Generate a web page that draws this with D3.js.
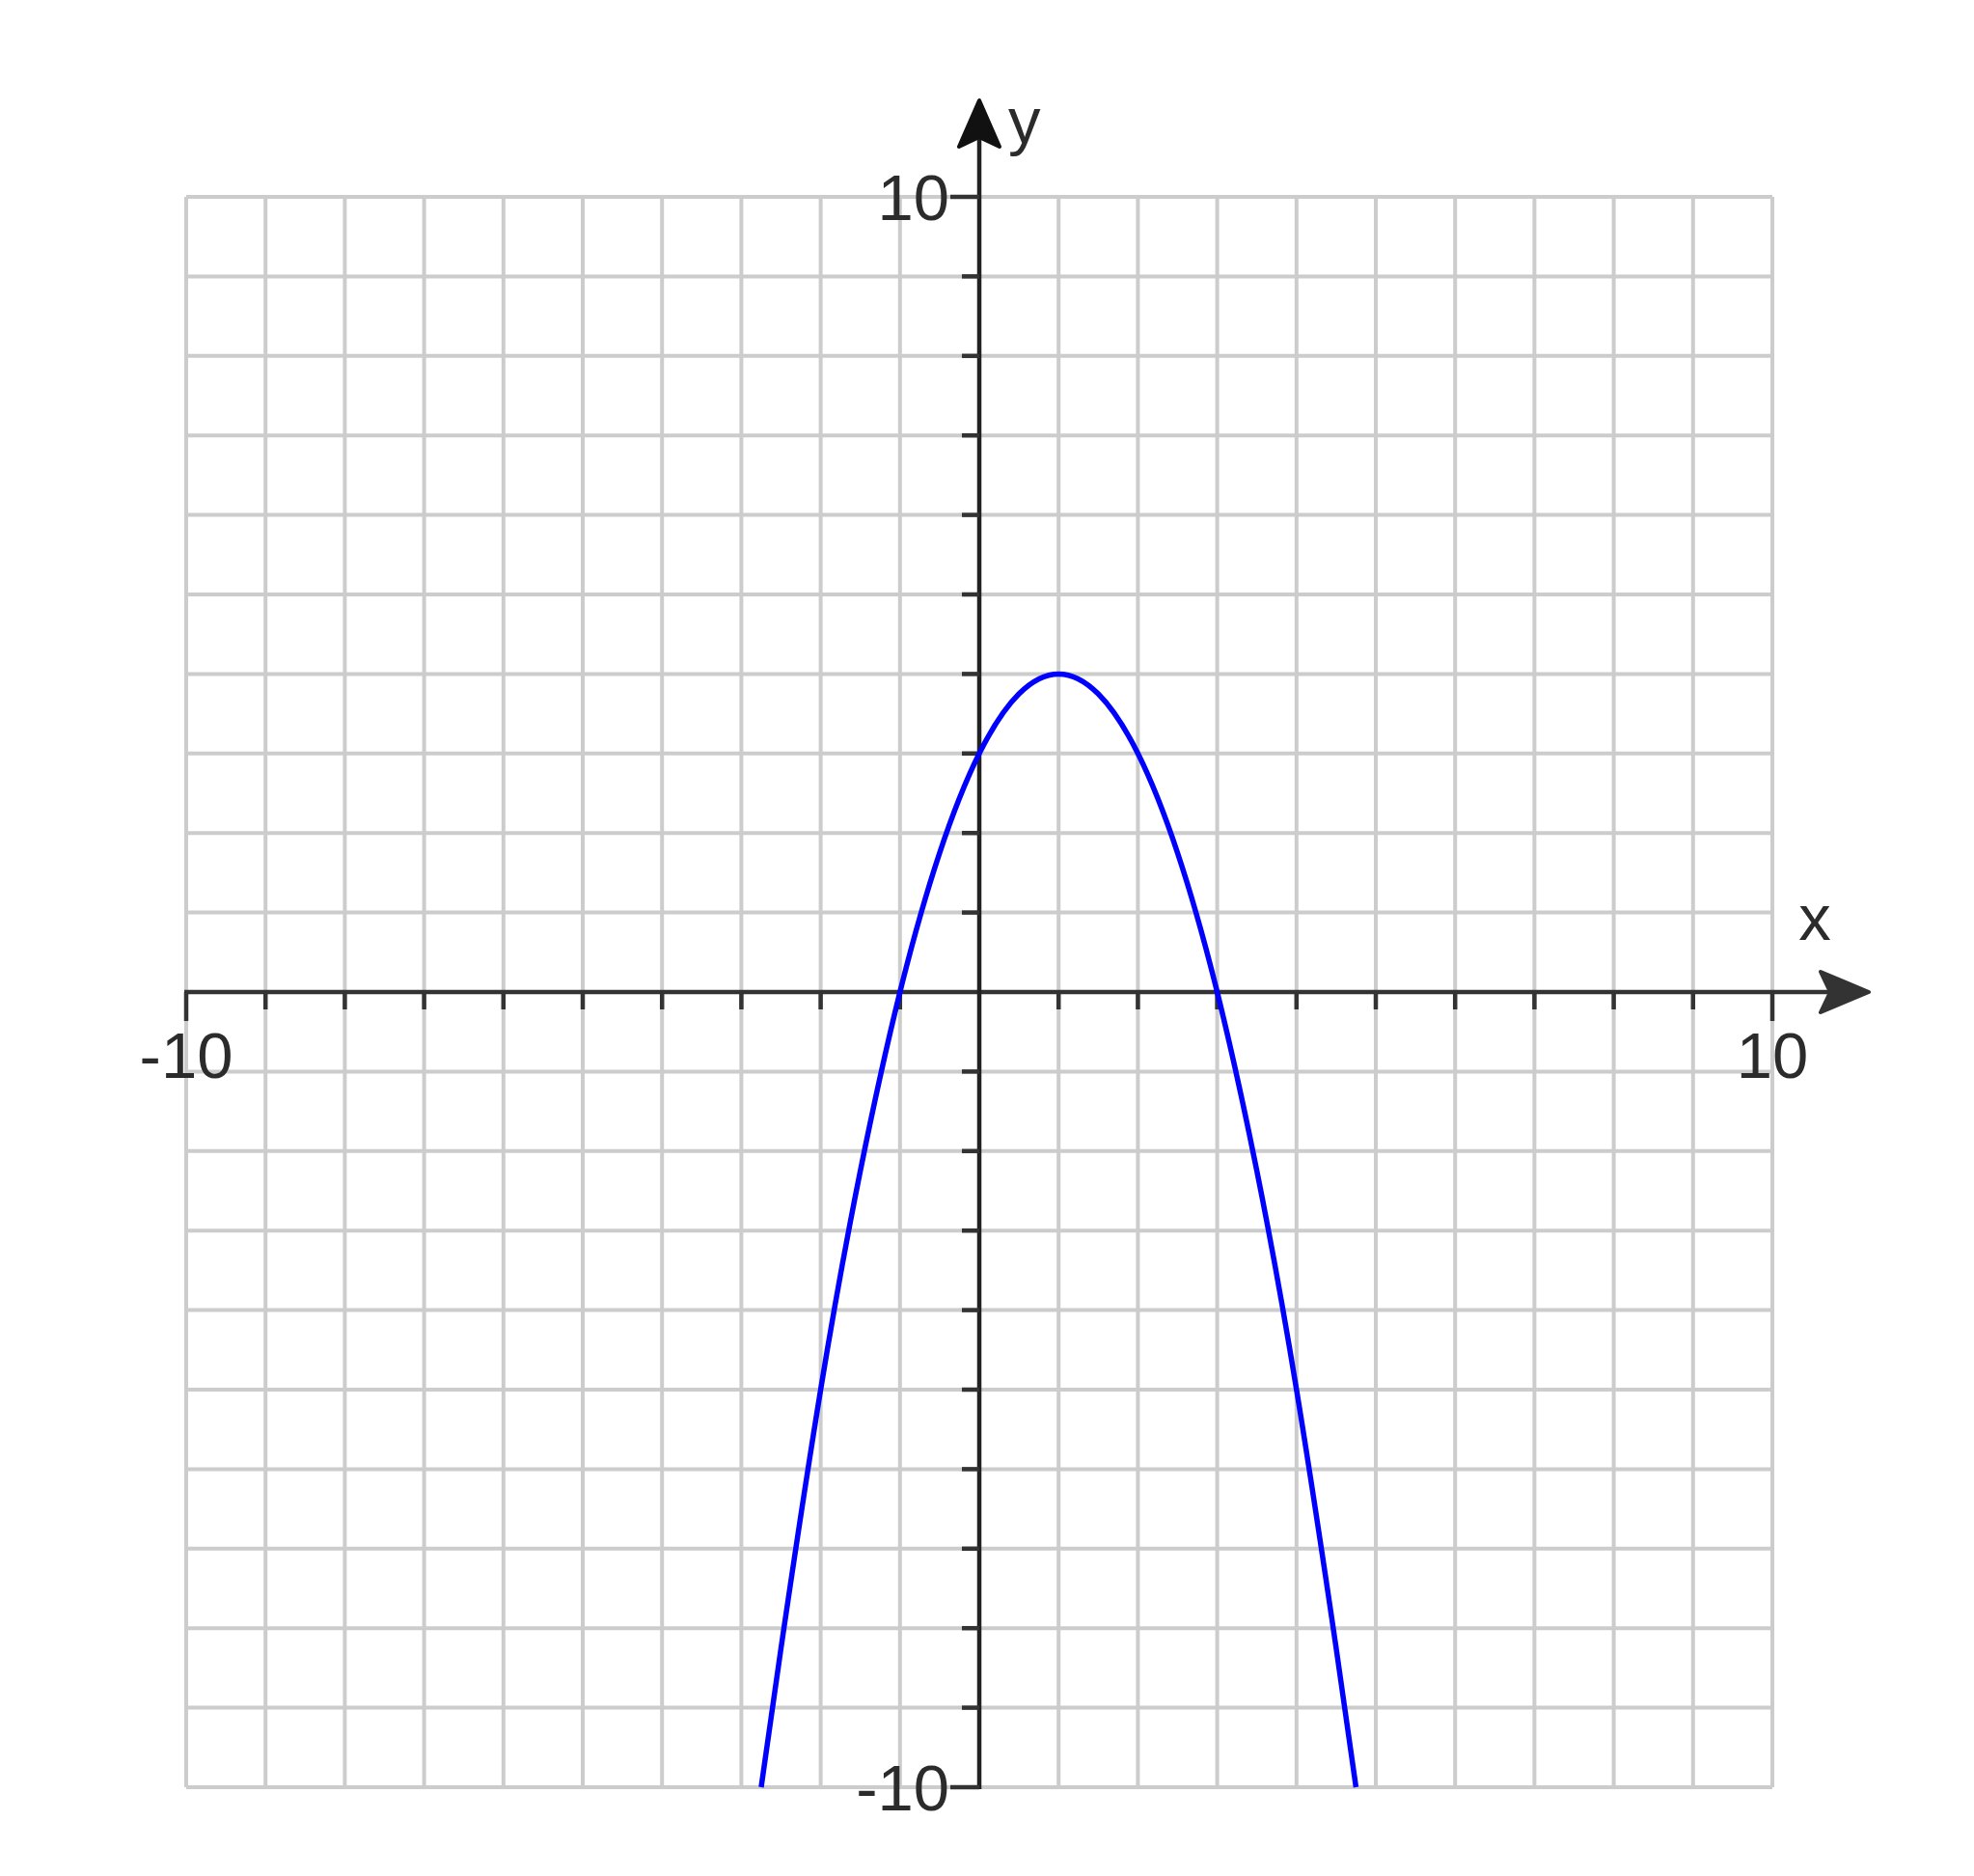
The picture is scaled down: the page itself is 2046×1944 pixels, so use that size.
<!DOCTYPE html>
<html>
<head>
<meta charset="utf-8">
<script src="https://cdn.jsdelivr.net/npm/d3@7"></script>
<style>
  body { margin: 0; background: #fff; }
  text { font-family: "Liberation Sans", Arial, sans-serif; fill: #2b2b2b; }
</style>
</head>
<body>
<svg></svg>
<script>
const width = 2046;
const height = 1944;

// grid / axis range
const gridValues = d3.range(-10, 11);
const tickLabels = [-10, 10];

// parabola
const curveX = [-2.75, -2.5, -2, -1.5, -1, -0.5, 0, 0.5, 1, 1.5, 2, 2.5, 3, 3.5, 4, 4.5, 4.75];
const curveY = [-10, -8.25, -5, -2.25, 0, 1.75, 3, 3.75, 4, 3.75, 3, 1.75, 0, -2.25, -5, -8.25, -10];

const xScale = d3.scaleLinear().domain([-10, 10]).range([193, 1837]);
const yScale = d3.scaleLinear().domain([-10, 10]).range([1852, 204]);

const svg = d3.select("svg")
  .attr("width", width)
  .attr("height", height);

// grid
const grid = svg.append("g")
  .attr("stroke", "#cccccc")
  .attr("stroke-width", 4);

grid.selectAll(".vline")
  .data(gridValues)
  .enter()
  .append("line")
    .attr("x1", d => xScale(d))
    .attr("x2", d => xScale(d))
    .attr("y1", yScale(-10))
    .attr("y2", yScale(10));

grid.selectAll(".hline")
  .data(gridValues)
  .enter()
  .append("line")
    .attr("y1", d => yScale(d))
    .attr("y2", d => yScale(d))
    .attr("x1", xScale(-10))
    .attr("x2", xScale(10));

const x0 = xScale(0);
const y0 = yScale(0);

// axes lines
svg.append("line")
  .attr("x1", xScale(-10) - 2).attr("x2", 1905)
  .attr("y1", y0).attr("y2", y0)
  .attr("stroke", "#333").attr("stroke-width", 4.5);

svg.append("line")
  .attr("x1", x0).attr("x2", x0)
  .attr("y1", yScale(-10) + 2).attr("y2", 135)
  .attr("stroke", "#222").attr("stroke-width", 4.5);

// arrow heads
const xTip = 1937;
svg.append("path")
  .attr("d", `M${xTip},${y0} L${xTip - 50},${y0 - 21} L${xTip - 40},${y0} L${xTip - 50},${y0 + 21} Z`)
  .attr("fill", "#333")
  .attr("stroke", "#333")
  .attr("stroke-width", 4)
  .attr("stroke-linejoin", "round");

const yTip = 104;
svg.append("path")
  .attr("d", `M${x0},${yTip} L${x0 - 21},${yTip + 48} L${x0},${yTip + 38} L${x0 + 21},${yTip + 48} Z`)
  .attr("fill", "#111")
  .attr("stroke", "#111")
  .attr("stroke-width", 4)
  .attr("stroke-linejoin", "round");

// ticks
const tickLen = d => tickLabels.includes(d) ? 30 : 18;

svg.selectAll(".xtick")
  .data(gridValues.filter(d => d !== 0))
  .enter()
  .append("line")
    .attr("x1", d => xScale(d)).attr("x2", d => xScale(d))
    .attr("y1", y0).attr("y2", d => y0 + tickLen(d))
    .attr("stroke", "#333").attr("stroke-width", 4.5);

svg.selectAll(".ytick")
  .data(gridValues.filter(d => d !== 0))
  .enter()
  .append("line")
    .attr("y1", d => yScale(d)).attr("y2", d => yScale(d))
    .attr("x1", x0).attr("x2", d => x0 - tickLen(d))
    .attr("stroke", "#333").attr("stroke-width", 4.5);

// tick labels
svg.selectAll(".xlabel")
  .data(tickLabels)
  .enter()
  .append("text")
    .attr("x", d => xScale(d))
    .attr("y", y0 + 89)
    .attr("text-anchor", "middle")
    .style("font-size", "67px")
    .text(d => d);

svg.selectAll(".ylabel")
  .data(tickLabels)
  .enter()
  .append("text")
    .attr("x", x0 - 31)
    .attr("y", d => yScale(d) + 24)
    .attr("text-anchor", "end")
    .style("font-size", "67px")
    .text(d => d);

// axis names
svg.append("text")
  .attr("x", 1881).attr("y", 974)
  .attr("text-anchor", "middle")
  .style("font-size", "67px")
  .text("x");

svg.append("text")
  .attr("x", 1045).attr("y", 148)
  .style("font-size", "67px")
  .text("y");

// curve
const line = d3.line()
  .x(d => xScale(d[0]))
  .y(d => yScale(d[1]))
  .curve(d3.curveNatural);

svg.append("path")
  .datum(d3.zip(curveX, curveY))
  .attr("d", line)
  .attr("fill", "none")
  .attr("stroke", "#0000ff")
  .attr("stroke-width", 5.5);
</script>
</body>
</html>
